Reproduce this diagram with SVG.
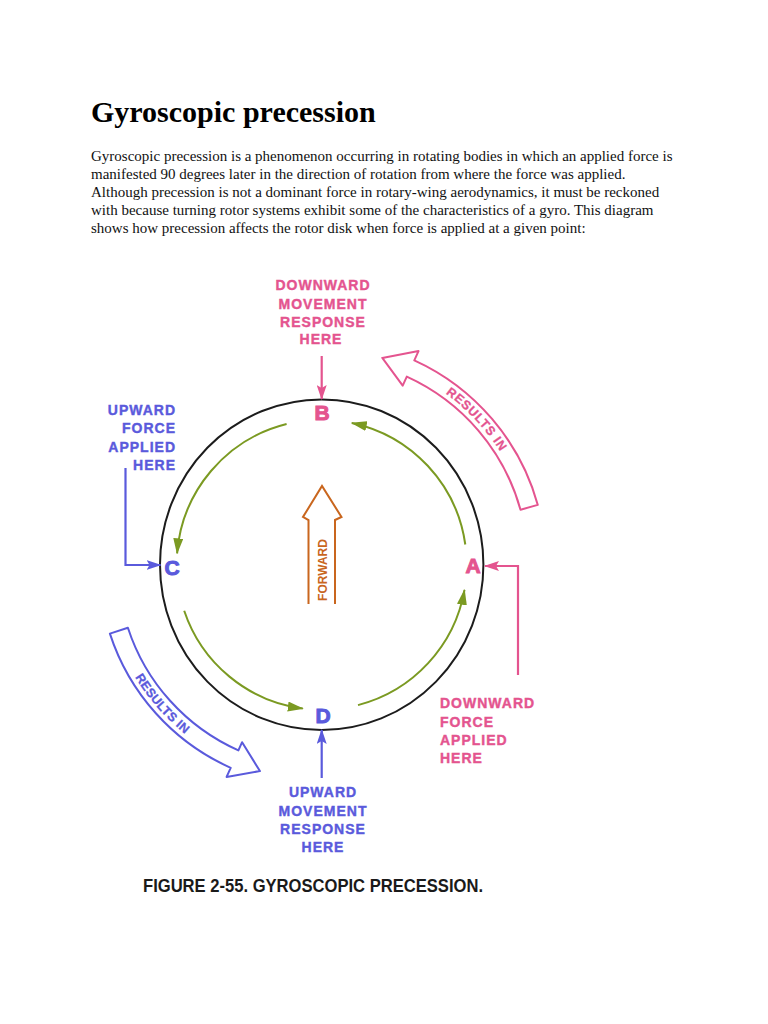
<svg xmlns="http://www.w3.org/2000/svg" width="768" height="1024" viewBox="0 0 768 1024">
<style>
.title{font-family:"Liberation Serif","Times New Roman",serif;font-weight:bold;font-size:30px;fill:#000}
.body{font-family:"Liberation Serif","Times New Roman",serif;font-size:15px;fill:#111}
.lbl{font-family:"Liberation Sans",Arial,sans-serif;font-weight:bold;font-size:14px;letter-spacing:1px;stroke-width:0.4}
.big{font-family:"Liberation Sans",Arial,sans-serif;font-weight:bold;font-size:21px}
.pink{fill:#e4548f;stroke:#e4548f}
.blue{fill:#5a5adc;stroke:#5a5adc}
.pl{stroke:#e4548f;stroke-width:2.2;fill:none}
.bl{stroke:#5a5adc;stroke-width:2.2;fill:none}
.gl{stroke:#7b9a22;stroke-width:2;fill:none;marker-end:url(#gh)}
.curv{font-family:"Liberation Sans",Arial,sans-serif;font-weight:bold;font-size:12.5px;stroke-width:0.3}
.cap{font-family:"Liberation Sans",Arial,sans-serif;font-weight:bold;font-size:19px;fill:#1a1a1a}
</style>
<defs>
<marker id="gh" viewBox="0 0 16 10" refX="15" refY="5" markerWidth="16" markerHeight="10" markerUnits="userSpaceOnUse" orient="auto">
<path d="M0,0 L16,5 L0,10 Z" fill="#7b9a22"/>
</marker>
<marker id="ph" viewBox="0 0 15 10" refX="14" refY="5" markerWidth="15" markerHeight="10" markerUnits="userSpaceOnUse" orient="auto">
<path d="M0,0 L15,5 L0,10 L3,5 Z" fill="#e4548f"/>
</marker>
<marker id="bh" viewBox="0 0 15 10" refX="14" refY="5" markerWidth="15" markerHeight="10" markerUnits="userSpaceOnUse" orient="auto">
<path d="M0,0 L15,5 L0,10 L3,5 Z" fill="#5a5adc"/>
</marker>
<path id="tpPink" d="M445.6,393.5 A211,211 0 0 1 508.2,465.5"/>
<path id="tpBlue" d="M133.1,673.5 A218,218 0 0 0 212.5,752.9"/>
</defs>

<g id="heading">
<text class="title" x="91" y="122">Gyroscopic precession</text>
<text class="body" x="91" y="161">Gyroscopic precession is a phenomenon occurring in rotating bodies in which an applied force is</text>
<text class="body" x="91" y="179">manifested 90 degrees later in the direction of rotation from where the force was applied.</text>
<text class="body" x="91" y="197">Although precession is not a dominant force in rotary-wing aerodynamics, it must be reckoned</text>
<text class="body" x="91" y="215">with because turning rotor systems exhibit some of the characteristics of a gyro. This diagram</text>
<text class="body" x="91" y="233">shows how precession affects the rotor disk when force is applied at a given point:</text>
</g>

<g id="rotor-disk">
<ellipse cx="321.7" cy="564.7" rx="161.7" ry="165.3" fill="none" stroke="#1c1c1c" stroke-width="2"/>
</g>

<g id="connectors">
<path class="gl" d="M286.6,424.0 A145,145 0 0 0 177.1,553.3"/>
<path class="gl" d="M465.3,544.5 A145,145 0 0 0 351.8,422.9"/>
<path class="gl" d="M184.2,610.7 A145,145 0 0 0 302.8,708.5"/>
<path class="gl" d="M358.0,705.1 A145,145 0 0 0 464.5,589.9"/>
<path class="pl" d="M321.7,356 L321.7,399" marker-end="url(#ph)"/>
<path class="pl" d="M518,675 L518,566 L485,566" marker-end="url(#ph)"/>
<path class="bl" d="M125.5,468 L125.5,565 L160.5,565" marker-end="url(#bh)"/>
<path class="bl" d="M321.7,778 L321.7,730" marker-end="url(#bh)"/>
</g>

<g id="point-B"><text class="big pink" x="322" y="420" text-anchor="middle">B</text></g>
<g id="point-A"><text class="big pink" x="473" y="573" text-anchor="middle">A</text></g>
<g id="point-C"><text class="big blue" x="172" y="575" text-anchor="middle">C</text></g>
<g id="point-D"><text class="big blue" x="323" y="723" text-anchor="middle">D</text></g>

<g id="label-downward-movement" class="lbl pink" text-anchor="middle">
<text x="323" y="290">DOWNWARD</text>
<text x="323" y="309">MOVEMENT</text>
<text x="323" y="327">RESPONSE</text>
<text x="321" y="344">HERE</text>
</g>

<g id="label-upward-force" class="lbl blue" text-anchor="end">
<text x="176" y="415">UPWARD</text>
<text x="176" y="433">FORCE</text>
<text x="176" y="452">APPLIED</text>
<text x="176" y="470">HERE</text>
</g>

<g id="label-downward-force" class="lbl pink">
<text x="440" y="708">DOWNWARD</text>
<text x="440" y="727">FORCE</text>
<text x="440" y="745">APPLIED</text>
<text x="440" y="763">HERE</text>
</g>

<g id="label-upward-movement" class="lbl blue" text-anchor="middle">
<text x="323" y="797">UPWARD</text>
<text x="323" y="816">MOVEMENT</text>
<text x="323" y="834">RESPONSE</text>
<text x="323" y="852">HERE</text>
</g>

<g id="forward-arrow">
<path d="M308.5,604 L308.5,520 L303,517 L322,486 L341.5,517 L335,520 L335,604" fill="none" stroke="#c9661e" stroke-width="2" stroke-linejoin="miter"/>
<text x="0" y="0" transform="translate(326.5,570) rotate(-90)" text-anchor="middle" font-family="Liberation Sans, Arial, sans-serif" font-weight="bold" font-size="12" fill="#c9661e">FORWARD</text>
</g>

<g id="results-in-pink">
<path d="M520.5,509.7 A207,207 0 0 0 406.8,376.6 L402.7,385.7 L382.3,357.9 L418.5,351.1 L414.3,360.3 A225,225 0 0 1 537.8,504.9 Z" fill="none" stroke="#e4548f" stroke-width="2" stroke-linejoin="round"/>
<text class="curv pink"><textPath href="#tpPink" textLength="80" lengthAdjust="spacing">RESULTS IN</textPath></text>
</g>

<g id="results-in-blue">
<path d="M127.9,627.7 A203,203 0 0 0 238.4,750.4 L242.1,742.2 L259.9,771.1 L226.6,776.9 L230.7,767.8 A222,222 0 0 1 109.9,633.6 Z" fill="none" stroke="#5a5adc" stroke-width="2" stroke-linejoin="round"/>
<text class="curv blue"><textPath href="#tpBlue" startOffset="4" textLength="76" lengthAdjust="spacing">RESULTS IN</textPath></text>
</g>

<g id="caption">
<text class="cap" x="143" y="892" textLength="340" lengthAdjust="spacingAndGlyphs">FIGURE 2-55. GYROSCOPIC PRECESSION.</text>
</g>
</svg>
